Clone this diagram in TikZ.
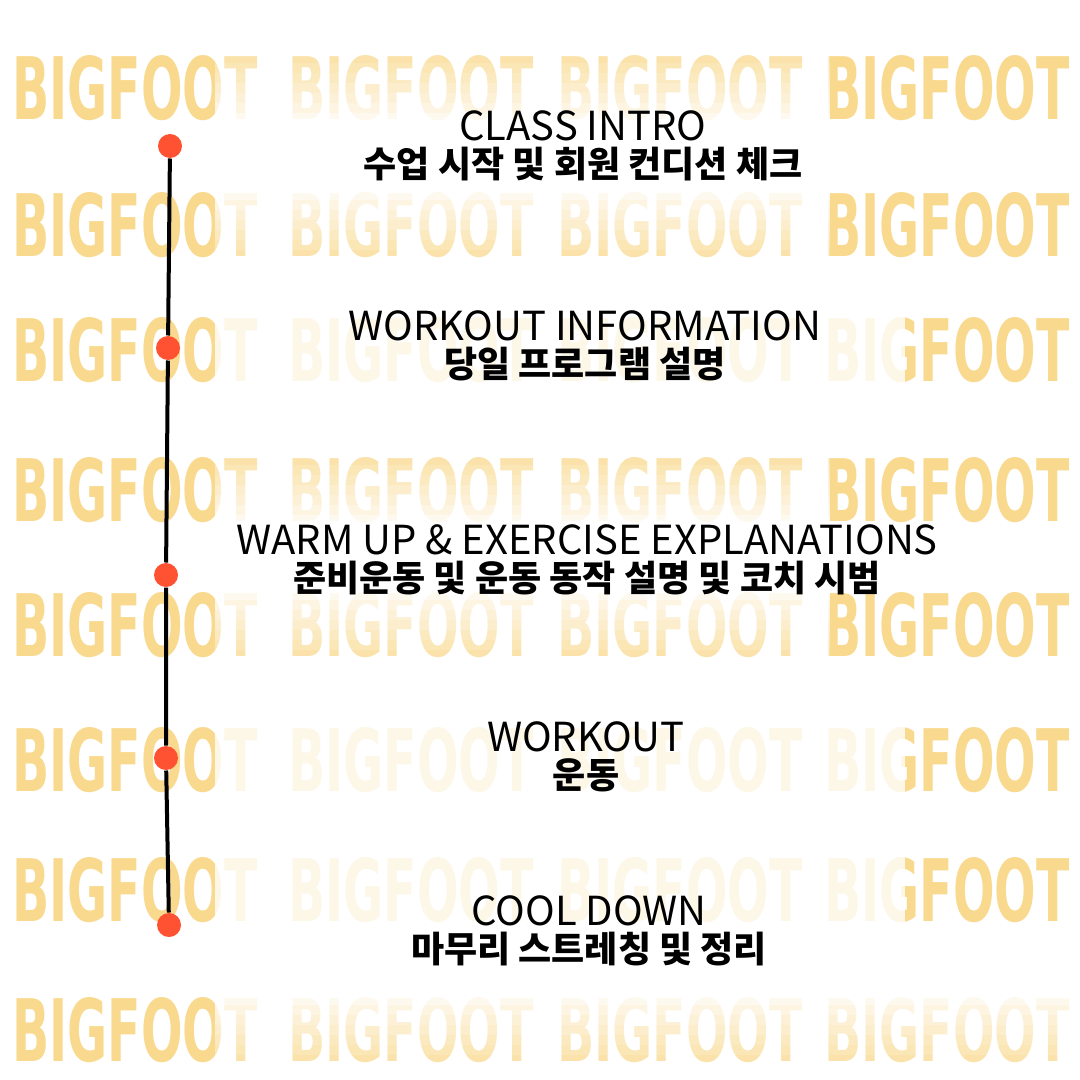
\documentclass[tikz,border=0pt]{standalone}
\usepackage{fontspec}
\usepackage{graphicx}
\setmainfont{Noto Sans CJK KR}
\newfontfamily\bigfont{DejaVu Sans Condensed}

\definecolor{bigyellow}{RGB}{249,217,142}
\definecolor{dotred}{RGB}{255,82,51}

\tikzset{every picture/.style={line width=0.75pt}}
\tikzset{
  bigword/.style={text=bigyellow, inner sep=0pt, font=\bigfont\bfseries},
  stepdot/.style={circle, fill=dotred, minimum size=18pt, inner sep=0pt},
  steplabel/.style={align=center, inner sep=0pt, font=\fontsize{30}{28}\selectfont},
}

\begin{document}
\begin{tikzpicture}[x=0.75pt,y=0.75pt,yscale=-1,xscale=1]
\useasboundingbox (0,0) rectangle (1080,1080);
\fill[white] (0,0) rectangle (1080,1080);

% Background words
\foreach \y [count=\r] in {88,225,350,490,625,760,890,1030}
  \foreach \x [count=\c] in {135,411,680,947}
    \node[bigword] (bf-\r-\c) at (\x,\y) {\resizebox{184pt}{48pt}{BIGFOOT}};

% Faded parts of the words (graded strips)
\foreach \y/\xa/\xb/\d in {88/215/830/1, 225/215/830/-1, 490/215/830/1, 625/215/830/-1, 1030/215/1080/-1}
  \foreach \k in {0,...,6}{
    \pgfmathsetmacro\op{0.55+\d*(0.1*\k-0.3)}
    \fill[white, fill opacity=\op] (\xa,\y-35+10*\k) rectangle (\xb,\y-25+10*\k);
  }
\foreach \y in {350,760,890}
  \fill[white, fill opacity=0.8] (215,\y-40) rectangle (905,\y+40);

%Shape: Circle
\node[stepdot] (d1) at (170,146) {};
\node[stepdot] (d2) at (168,348) {};
\node[stepdot] (d3) at (166,575) {};
\node[stepdot] (d4) at (166,758) {};
\node[stepdot] (d5) at (169,925) {};

%Straight Lines
\draw[line width=3pt] (d1) -- (d2) -- (d3) -- (d4) -- (d5);

% Text Node
\node[steplabel] (l1) at (583,146) {CLASS INTRO\\\fontsize{27}{28}\selectfont\bfseries 수업 시작 및 회원 컨디션 체크};
% Text Node
\node[steplabel] (l2) at (585,346) {WORKOUT INFORMATION\\\fontsize{27}{28}\selectfont\bfseries 당일 프로그램 설명};
% Text Node
\node[steplabel] (l3) at (587,560) {WARM UP \& EXERCISE EXPLANATIONS\\\fontsize{27}{28}\selectfont\bfseries 준비운동 및 운동 동작 설명 및 코치 시범};
% Text Node
\node[steplabel] (l4) at (586,757) {WORKOUT\\\fontsize{27}{28}\selectfont\bfseries 운동};
% Text Node
\node[steplabel] (l5) at (589,931) {COOL DOWN\\\fontsize{27}{28}\selectfont\bfseries 마무리 스트레칭 및 정리};

\end{tikzpicture}
\end{document}
